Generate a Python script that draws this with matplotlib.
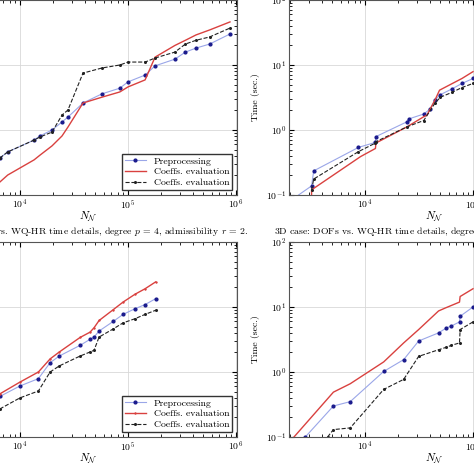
import matplotlib
matplotlib.use('Agg')
import matplotlib.pyplot as plt

plt.rcParams['font.family'] = 'serif'
plt.rcParams['font.serif'] = ['cmr10', 'DejaVu Serif']
plt.rcParams['mathtext.fontset'] = 'cm'
plt.rcParams['axes.formatter.use_mathtext'] = True

# top-left panel
tl_n = [6.5e3, 7.7e3, 1.35e4, 1.53e4, 1.98e4, 2.45e4, 2.78e4, 3.83e4, 5.74e4, 8.4e4,
        1e5, 1.44e5, 1.78e5, 2.72e5, 3.4e5, 4.26e5, 5.7e5, 8.8e5]
tl_pre = [0.37, 0.46, 0.70, 0.81, 1.0, 1.33, 1.58, 2.6, 3.6, 4.4, 5.5, 7.0, 9.7, 12.3, 15.8, 18.2, 21, 30]
tl_coef = [0.158, 0.203, 0.347, 0.41, 0.57, 0.81, 1.11, 2.6, 3.2, 3.85, 4.6, 5.9, 13.2, 20, 24, 29, 34.6, 46]
tl_coef2 = [0.37, 0.46, 0.70, 0.78, 0.93, 1.7, 2.03, 7.5, 9.0, 10, 11.1, 11.1, 12.8, 15.8, 21, 24, 27, 37]

# top-right panel
tr_pre_n = [2.0e3, 3.2e3, 3.35e3, 8.7e3, 1.25e4, 1.26e4, 2.45e4, 2.54e4, 3.5e4, 4.0e4,
            4.45e4, 5.0e4, 6.4e4, 7.9e4, 1e5]
tr_pre = [0.08, 0.138, 0.235, 0.54, 0.645, 0.79, 1.34, 1.48, 1.76, 2.1, 2.9, 3.5, 4.3, 5.2, 6.2]
tr_coef_n = [3.2e3, 3.2e3, 9.1e3, 1.25e4, 1.26e4, 2.45e4, 3.5e4, 3.75e4, 4.45e4, 4.9e4, 7.9e4, 1e5]
tr_coef = [0.08, 0.12, 0.39, 0.52, 0.63, 1.12, 1.6, 1.7, 2.9, 4.1, 6.2, 7.9]
tr_coef2_n = [3.2e3, 3.35e3, 8.7e3, 1.25e4, 1.26e4, 2.45e4, 3.5e4, 4.45e4, 5.0e4, 6.4e4, 7.9e4, 1e5]
tr_coef2 = [0.12, 0.176, 0.465, 0.63, 0.66, 1.12, 1.4, 2.6, 3.2, 3.8, 4.5, 5.2]

# bottom-left panel
bl_n = [6.5e3, 1e4, 1.48e4, 1.9e4, 2.31e4, 3.6e4, 4.45e4, 4.85e4, 5.4e4, 7.3e4, 9.0e4, 1.16e5, 1.44e5, 1.8e5]
bl_pre = [0.42, 0.61, 0.79, 1.39, 1.76, 2.57, 3.18, 3.45, 4.27, 6.0, 7.7, 9.4, 10.9, 13.4]
bl_coef = [0.46, 0.70, 1.0, 1.59, 2.03, 3.4, 4.1, 4.8, 6.2, 9.1, 11.9, 15.7, 19.1, 24.3]
bl_coef2 = [0.27, 0.40, 0.51, 1.0, 1.24, 1.76, 2.03, 2.16, 3.45, 4.6, 5.7, 6.6, 7.7, 8.9]

# bottom-right panel
br_pre_n = [2.8e3, 5.1e3, 7.3e3, 1.49e4, 2.28e4, 3.14e4, 4.8e4, 5.66e4, 6.3e4, 7.5e4, 7.6e4, 1e5]
br_pre = [0.1, 0.30, 0.35, 1.02, 1.55, 3.0, 4.0, 4.75, 5.1, 5.9, 7.2, 10]
br_coef_n = [2.2e3, 5.1e3, 7.3e3, 1.49e4, 2.28e4, 3.14e4, 4.8e4, 5.66e4, 7.5e4, 7.6e4, 1e5]
br_coef = [0.1, 0.49, 0.66, 1.43, 2.8, 4.5, 8.7, 9.8, 11.9, 14.5, 19.1]
br_coef2_n = [4.5e3, 5.1e3, 7.3e3, 1.49e4, 2.28e4, 3.14e4, 4.8e4, 5.66e4, 6.3e4, 7.5e4, 7.6e4, 1e5]
br_coef2 = [0.1, 0.13, 0.138, 0.54, 0.77, 1.74, 2.2, 2.4, 2.57, 2.8, 4.5, 5.9]

caption = r'3D case: DOFs vs. WQ-HR time details, degree $p$ = 4, admissibility $r$ = 2.'

S = 474.0
fig = plt.figure(figsize=(4.74, 4.74), dpi=100)


def add_panel(x0, x1, y0, y1, xlim, show_y):
    ax = fig.add_axes([x0 / S, 1 - y1 / S, (x1 - x0) / S, (y1 - y0) / S])
    ax.set_xscale('log')
    ax.set_yscale('log')
    ax.set_xlim(*xlim)
    ax.set_ylim(0.1, 100)
    ax.grid(True, which='major', color='#d8d8d8', lw=0.6)
    ax.tick_params(labelsize=7, direction='in', which='both', top=True, right=True,
                   pad=2, labelleft=show_y)
    for s in ax.spines.values():
        s.set_color('#555555')
    ax.set_xlabel(r'$N_{\mathcal{N}}$', fontsize=8, labelpad=-2)
    if show_y:
        ax.set_ylabel('Time (sec.)', fontsize=7)
    return ax


def draw(ax, n1, y1, n2, y2, n3, y3, legend, red_marks):
    ax.plot(n1, y1, color='#9aa6e8', lw=0.8, marker='o', ms=2, mfc='#1a1a8c', mec='#1a1a8c',
            label='Preprocessing')
    ax.plot(n2, y2, color='#d9413f', lw=1.0, marker='+' if red_marks else None, ms=2,
            label='Coeffs. evaluation')
    ax.plot(n3, y3, color='#222222', lw=0.8, ls='--', marker='o', ms=1.2,
            label='Coeffs. evaluation')
    if legend:
        ax.legend(loc='lower right', fontsize=7, fancybox=False, edgecolor='#333333',
                  framealpha=1, handlelength=2.2, borderpad=0.3, labelspacing=0.2)


# left panels: 1e4 at px 20, 108 px per decade; right: 1e4 at px 365
def xlim_for(x0, x1, ref_px):
    return (10 ** (4 + (x0 - ref_px) / 108.0), 10 ** (4 + (x1 - ref_px) / 108.0))


ax = add_panel(-60, 237, 0, 195, xlim_for(-60, 237, 20), False)
draw(ax, tl_n, tl_pre, tl_n, tl_coef, tl_n, tl_coef2, True, False)

ax = add_panel(289, 580, 0, 195, xlim_for(289, 580, 365), True)
draw(ax, tr_pre_n, tr_pre, tr_coef_n, tr_coef, tr_coef2_n, tr_coef2, False, False)

ax = add_panel(-60, 237, 242, 437, xlim_for(-60, 237, 20), False)
draw(ax, bl_n, bl_pre, bl_n, bl_coef, bl_n, bl_coef2, True, True)

ax = add_panel(289, 580, 242, 437, xlim_for(289, 580, 365), True)
draw(ax, br_pre_n, br_pre, br_coef_n, br_coef, br_coef2_n, br_coef2, False, False)

fig.text(88 / S, 1 - 232 / S, caption, ha='center', va='center', fontsize=7)
fig.text(434 / S, 1 - 232 / S, caption, ha='center', va='center', fontsize=7)

fig.savefig('out.png', dpi=100)
